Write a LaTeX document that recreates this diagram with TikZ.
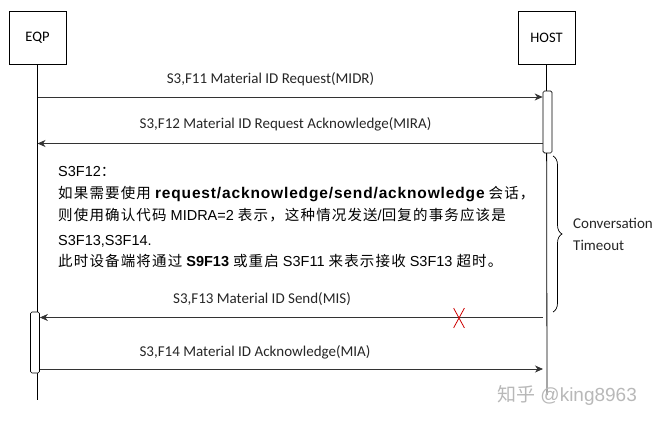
\documentclass[tikz,border=0pt]{standalone}
\usepackage{fontspec}
\setmainfont{Liberation Sans}
\newfontfamily\cjkfont[LetterSpace=8]{Noto Sans CJK SC}
\newfontfamily\wmcjk{Noto Sans CJK SC}
\newfontfamily\lblfont{Carlito}
\usetikzlibrary{arrows.meta,decorations.pathreplacing,shapes.misc}
\newcommand\zh[1]{{\cjkfont #1}}
\begin{document}
\begin{tikzpicture}[x=1pt,y=-1pt,
  actor/.style={draw, line width=0.8pt, minimum width=57pt, minimum height=53pt, inner sep=0pt,
    font=\lblfont\fontsize{14.5}{16}\selectfont},
  lifeline/.style={line width=0.8pt},
  actbox/.style={draw, fill=white, line width=0.7pt, rounded corners=1.5pt, minimum width=9pt, inner sep=0pt},
  msg/.style={draw=black!80, line width=0.8pt, -{Stealth[length=8pt,width=7pt,inset=2.5pt]}},
  lbl/.style={font=\lblfont\fontsize{15}{17}\selectfont, text=black!85, anchor=base, inner sep=0pt},
  body/.style={anchor=base west, inner sep=0pt, font=\fontsize{14.5}{17}\selectfont},
  side/.style={anchor=base west, inner sep=0pt, font=\lblfont\fontsize{15}{17}\selectfont, text=black!85},
]
\useasboundingbox (0,0) rectangle (662,425);

% actors and lifelines
\node[actor] (eqp) at (37.5,37.5) {EQP};
\node[actor] (host) at (546.5,38) {HOST};
\coordinate (eqpend) at (37.5,400);
\coordinate (hostend) at (547,395);
\draw[lifeline] (eqp.south) -- (eqpend);
\draw[lifeline] (host.south) -- (hostend);

% activation boxes
\node[actbox, minimum height=62pt] (hact) at (547.5,122) {};
\node[actbox, minimum height=61pt] (eact) at (35,342.5) {};

% messages
\coordinate (a1) at (38,97);
\draw[msg] (a1) -- (a1 -| hact.west);
\node[lbl] (l1) at (270.5,84) {S3,F11 Material ID Request(MIDR)};

\coordinate (a2) at (543,143.5);
\draw[msg] (a2) -- (a2 -| eqp.south);
\node[lbl] (l2) at (285.5,129) {S3,F12 Material ID Request Acknowledge(MIRA)};

\coordinate (a3) at (543,317.5);
\draw[msg] (a3) -- (a3 -| eact.east);
\node[lbl] (l3) at (262,303) {S3,F13 Material ID Send(MIS)};
\node[draw=red!80!black, cross out, line width=0.8pt, minimum width=10pt, minimum height=19pt, inner sep=0pt] (lost) at (459,318) {};

\coordinate (a4) at (543,369);
\draw[msg] (a4 -| eact.east) -- (a4);
\node[lbl] (l4) at (255,356) {S3,F14 Material ID Acknowledge(MIA)};

% brace
\coordinate (br1) at (553,156);
\coordinate (br2) at (553,312);
\draw[line width=0.7pt, decorate, decoration={brace, amplitude=9pt}] (br1) -- (br2);
\node[side] (conv) at (573,229) {Conversation};
\node[side] (tout) at (573,251) {Timeout};

% explanation text
\node[body] (t1) at (58,177) {S3F12\zh{：}};
\node[body] (t2) at (58,199) {\zh{如果需要使用} {\fontsize{15.5}{17}\selectfont\bfseries\addfontfeature{LetterSpace=5.5}request/acknowledge/send/acknowledge} \zh{会话，}};
\node[body] (t3) at (58,221) {\zh{则使用确认代码} MIDRA=2 \zh{表示，这种情况发送}/\zh{回复的事务应该是}};
\node[body] (t4) at (58,245) {S3F13,S3F14.};
\node[body] (t5) at (58,266) {\zh{此时设备端将通过} {\bfseries S9F13} \zh{或重启} S3F11 \zh{来表示接收} S3F13 \zh{超时。}};

% watermark
\node[anchor=base west, inner sep=0pt, text=black!28, font=\fontsize{19}{21}\selectfont] (wm) at (497,401) {{\wmcjk 知乎} @king8963};
\end{tikzpicture}
\end{document}
